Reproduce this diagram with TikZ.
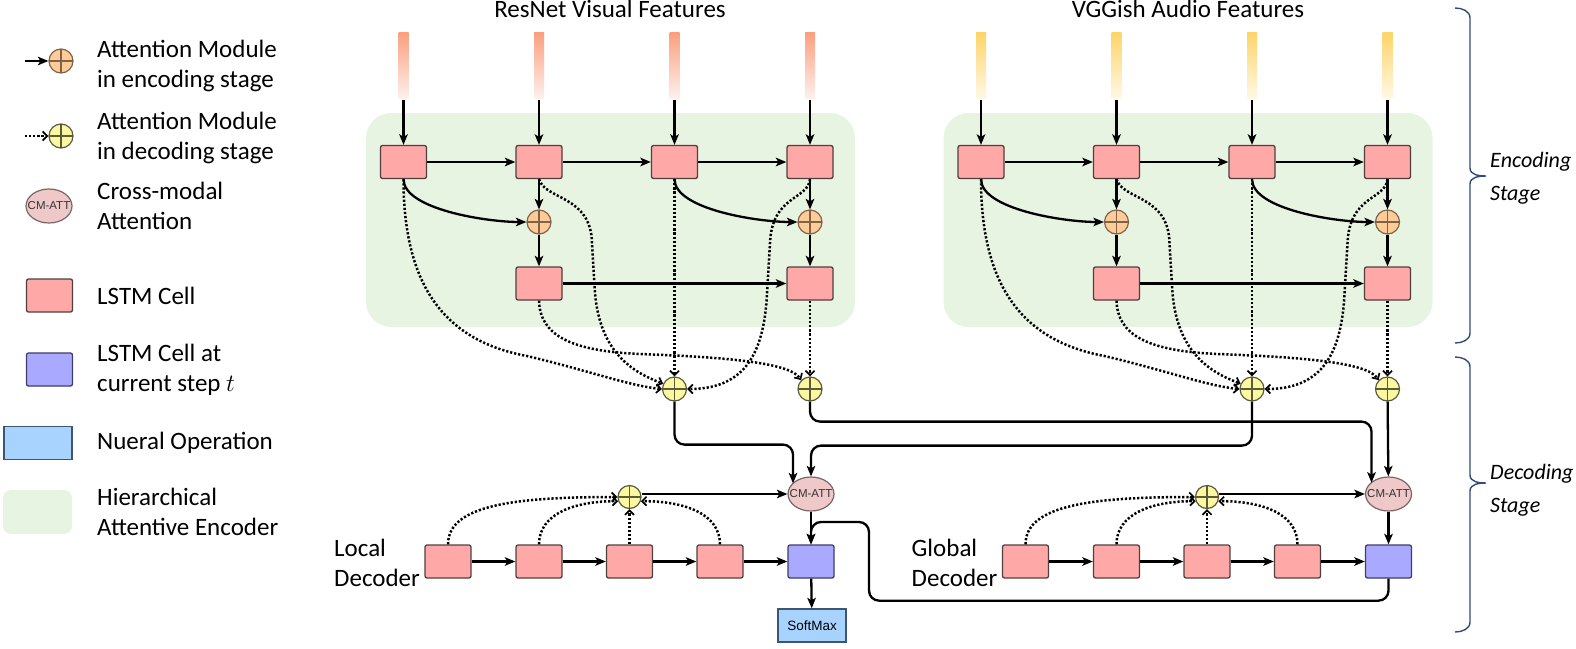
\documentclass[tikz,border=0pt]{standalone}
\usepackage{fontspec}
\setmainfont{Carlito}
\newfontfamily\arialf{Liberation Sans}
\usetikzlibrary{arrows.meta,calc,shapes.geometric}

\definecolor{lstm}{HTML}{FFA8A8}
\definecolor{lstmd}{HTML}{4F4040}
\definecolor{cur}{HTML}{A9A9FF}
\definecolor{curd}{HTML}{3E3E66}
\definecolor{nop}{HTML}{A9D3FF}
\definecolor{nopd}{HTML}{3C5670}
\definecolor{encbg}{HTML}{E8F4E2}
\definecolor{att}{HTML}{FFCC99}
\definecolor{attd}{HTML}{7F6347}
\definecolor{datt}{HTML}{FBF8A0}
\definecolor{dattd}{HTML}{5A5A40}
\definecolor{cma}{HTML}{EFC9C9}
\definecolor{cmad}{HTML}{7A6666}
\definecolor{vtop}{HTML}{FA9F7E}
\definecolor{vbot}{HTML}{FDF0EC}
\definecolor{atop}{HTML}{FDD468}
\definecolor{abot}{HTML}{FFF8E4}
\definecolor{brc}{HTML}{2F4B7C}

\tikzset{
 cell/.style={draw=lstmd, fill=lstm, line width=1.3pt, rounded corners=2pt, minimum width=46pt, minimum height=33pt, inner sep=0pt},
 curcell/.style={cell, draw=curd, fill=cur},
 nopbox/.style={draw=nopd, fill=nop, line width=1.3pt, minimum width=68pt, minimum height=33pt, inner sep=0pt, font=\arialf\fontsize{13.5}{14}\selectfont},
 plusc/.style={circle, draw=#1, line width=1.2pt, minimum size=24pt, inner sep=0pt,
   path picture={\draw[line width=1.1pt, #1] (path picture bounding box.north) -- (path picture bounding box.south) (path picture bounding box.west) -- (path picture bounding box.east);}},
 encatt/.style={plusc=attd, fill=att},
 decatt/.style={plusc=dattd, fill=datt},
 cmatt/.style={ellipse, draw=cmad, fill=cma, line width=1.2pt, minimum width=46pt, minimum height=34pt, inner sep=0pt,
   label={[font=\arialf\fontsize{11.5}{12}\selectfont, text=black!80, inner sep=0pt]center:CM-ATT}},
 bar/.style={minimum width=10pt, minimum height=66pt, inner sep=0pt},
 arr/.style={line width=2.3pt, -{Stealth[length=10.5pt,width=8.5pt,inset=2.5pt]}},
 dotarr/.style={line width=2.5pt, dash pattern=on 2.2pt off 1.9pt, -{Straight Barb[length=4.5pt,width=9pt,line width=1.7pt]}},
 lgtext/.style={anchor=west, align=left, font=\fontsize{25}{30}\selectfont, inner sep=0pt},
 ttext/.style={anchor=base, font=\fontsize{25}{30}\selectfont, inner sep=0pt},
 brace/.style={draw=brc, line width=1.4pt},
}

\begin{document}
\begin{tikzpicture}[x=1pt,y=1pt]
\useasboundingbox (0,0) rectangle (1576,-648);

% ---------- legend ----------
\node[encatt] (lg1) at (61,-61) {};
\coordinate (lg1s) at (25,-61);
\draw[arr] (lg1s) -- (lg1);
\node[decatt] (lg2) at (61,-136) {};
\coordinate (lg2s) at (25,-136);
\draw[dotarr] (lg2s) -- (lg2);
\node[cmatt] (lg3) at (49,-206) {};
\node[cell] (lg4) at (49.5,-295.5) {};
\node[curcell] (lg5) at (49.5,-369.5) {};
\node[nopbox] (lg6) at (38,-443) {};
\node[fill=encbg, rounded corners=8pt, minimum width=69pt, minimum height=44pt, inner sep=0pt] (lg7) at (37.5,-512) {};

\node[lgtext] (t1) at (97,-66) {Attention Module\\in encoding stage};
\node[lgtext] (t2) at (97,-137.5) {Attention Module\\in decoding stage};
\node[lgtext] (t3) at (97,-206) {Cross-modal\\Attention};
\node[lgtext] (t4) at (97,-296) {LSTM Cell};
\node[lgtext] (t5) at (97,-370) {LSTM Cell at\\current step $t$};
\node[lgtext] (t6) at (97,-443) {Nueral Operation};
\node[lgtext] (t7) at (97,-512) {Hierarchical\\Attentive Encoder};

% ---------- titles ----------
\node[ttext] (tv) at (610,-17.5) {ResNet Visual Features};
\node[ttext] (ta) at (1188,-17.5) {VGGish Audio Features};

% ---------- encoders ----------
\foreach \side/\dx/\topc/\botc in {L/0/vtop/vbot,R/577.5/atop/abot}{
\begin{scope}[xshift=\dx]
 \fill[encbg, rounded corners=25pt] (366,-113) rectangle (855,-327);
 \foreach \i/\x in {1/403.5,2/539,3/674.5,4/810}{
   \node[bar, top color=\topc, bottom color=\botc] (\side b\i) at (\x,-65) {};
   \node[cell] (\side e\i) at (\x,-162) {};
   \draw[arr, shorten <=2pt] (\side b\i) -- (\side e\i);
 }
 \node[encatt] (\side a2) at (539,-222) {};
 \node[encatt] (\side a4) at (810,-222) {};
 \node[cell] (\side f2) at (539,-283.5) {};
 \node[cell] (\side f4) at (810,-283.5) {};
 \node[decatt] (\side y3) at (674.5,-389) {};
 \node[decatt] (\side y4) at (810,-389) {};
 \draw[arr] (\side e1) -- (\side e2);
 \draw[arr] (\side e2) -- (\side e3);
 \draw[arr] (\side e3) -- (\side e4);
 \draw[arr] (\side e1.south) .. controls +(0,-30) and +(-40,0) .. (\side a2.west);
 \draw[arr] (\side e3.south) .. controls +(0,-30) and +(-40,0) .. (\side a4.west);
 \draw[arr] (\side e2) -- (\side a2);
 \draw[arr] (\side a2) -- (\side f2);
 \draw[arr] (\side e4) -- (\side a4);
 \draw[arr] (\side a4) -- (\side f4);
 \draw[arr] (\side f2) -- (\side f4);
 % dotted links to decoding attention
 \draw[dotarr] (\side e1.south) .. controls (403.5,-280) and (440,-340) .. (527,-356) .. controls (590,-371) and (630,-386) .. (\side y3.west);
 \draw[dotarr] (\side e2.south) .. controls (545,-200) and (591,-195) .. (592,-243) -- (595,-293) .. controls (600,-352) and (632,-372) .. (\side y3.155);
 \draw[dotarr] (\side e3) -- (\side y3);
 \draw[dotarr] (\side e4.south) .. controls (808,-200) and (772,-195) .. (770,-243) -- (767,-293) .. controls (764,-360) and (740,-389) .. (\side y3.east);
 \draw[dotarr] (\side f2.south) .. controls (540,-335) and (570,-351) .. (640,-354) .. controls (720,-357) and (790,-362) .. (\side y4.135);
 \draw[dotarr] (\side f4) -- (\side y4);
\end{scope}}

% ---------- decoders ----------
\foreach \side/\dx/\lbl in {L/0/Local,R/577.5/Global}{
\begin{scope}[xshift=\dx]
 \foreach \i/\x in {1/448,2/539,3/629.5,4/720}{
   \node[cell] (\side d\i) at (\x,-561.5) {};
 }
 \node[curcell] (\side p) at (811,-561.5) {};
 \node[decatt, minimum size=23pt] (\side yd) at (629.5,-497) {};
 \node[cmatt] (\side cm) at (811,-494) {};
 \node[lgtext] (\side lab) at (334,-562.5) {\lbl\\Decoder};
 \draw[arr] (\side d1) -- (\side d2);
 \draw[arr] (\side d2) -- (\side d3);
 \draw[arr] (\side d3) -- (\side d4);
 \draw[arr] (\side d4) -- (\side p);
 \draw[dotarr] (\side d1.north) .. controls +(0,40) and +(-100,0) .. (\side yd.west);
 \draw[dotarr] (\side d2.north) .. controls +(0,30) and +(-45,0) .. (\side yd.200);
 \draw[dotarr] (\side d3) -- (\side yd);
 \draw[dotarr] (\side d4.north) .. controls +(0,30) and +(45,0) .. (\side yd.-20);
 \draw[arr] (\side yd.east |- \side cm.west) -- (\side cm.west);
 \draw[arr] (\side cm) -- (\side p);
\end{scope}}

\node[nopbox] (sm) at (812,-625.5) {SoftMax};
\draw[arr] (Lp) -- (sm);

% cross-modal links
\draw[arr, rounded corners=10pt] (Ly3.south) -- ++(0,-43) -| ($(Lcm.center)+(-18,10.6)$);
\draw[arr, rounded corners=10pt] (Ry3.south) -- ++(0,-44) -| (Lcm.north);
\draw[arr, rounded corners=10pt] (Ly4.south) -- ++(0,-20) -| ($(Rcm.center)+(-17,11.3)$);
\draw[arr] (Ry4) -- (Rcm);

% global -> local loop
\coordinate (loop) at (869,-522);
\draw[arr, rounded corners=10pt] (Rp.south) -- ++(0,-22) -| (loop) -| (Lp.north);

% ---------- braces ----------
\draw[brace] (1455,-8) to[out=0,in=90] (1470,-18) -- (1470,-168) to[out=-90,in=180] (1486,-176) to[out=180,in=90] (1470,-184) -- (1470,-333) to[out=-90,in=0] (1455,-343);
\draw[brace] (1455,-357) to[out=0,in=90] (1470,-367) -- (1470,-475) to[out=-90,in=180] (1486,-483) to[out=180,in=90] (1470,-491) -- (1470,-622) to[out=-90,in=0] (1455,-632);
\node[anchor=west, align=left, font=\itshape\fontsize{22}{33}\selectfont, inner sep=0pt] (encl) at (1490,-178) {Encoding\\Stage};
\node[anchor=west, align=left, font=\itshape\fontsize{22}{33}\selectfont, inner sep=0pt] (decl) at (1490,-490) {Decoding\\Stage};
\end{tikzpicture}
\end{document}
